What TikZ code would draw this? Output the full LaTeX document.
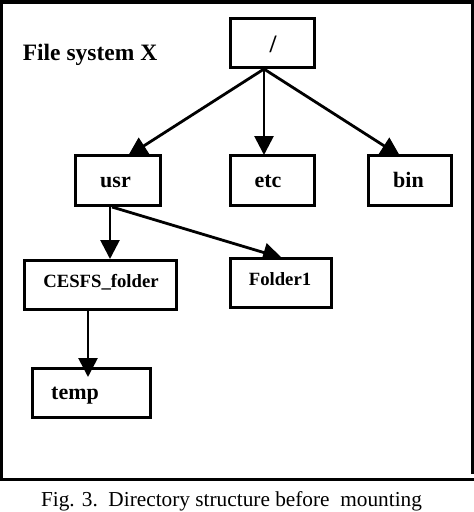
\documentclass[tikz,border=0pt]{standalone}
\usepackage{fontspec}
\setmainfont{Liberation Serif}
\usetikzlibrary{arrows.meta}
\begin{document}
\begin{tikzpicture}[x=1pt,y=-1pt,
  dirbox/.style={draw,line width=3pt,fill=white,inner sep=0pt,outer sep=0pt},
  big/.style={font=\bfseries\fontsize{22}{24}\selectfont,inner sep=0pt,anchor=base},
  small/.style={font=\bfseries\fontsize{18.7}{20}\selectfont,inner sep=0pt,anchor=base},
  link/.style={line width=2.8pt,-{Triangle[length=19pt,width=19pt]}},
  frame/.style={line width=3.5pt}]
\useasboundingbox (0,0) rectangle (474,512);
% outer frame
\coordinate (ftl) at (0,2);
\coordinate (ftr) at (474,2);
\coordinate (fl1) at (1.5,0);
\coordinate (fl2) at (1.5,479);
\coordinate (fr1) at (473,0);
\coordinate (fr2) at (473,474);
\coordinate (fbl) at (0,479.5);
\coordinate (fbr) at (474,479.5);
\draw[frame] (ftl) -- (ftr);
\draw[frame] (fl1) -- (fl2);
\draw[frame] (fr1) -- (fr2);
\draw[frame] (fbl) -- (fbr);
% arrow end points
\coordinate (rs) at (264,69);
\coordinate (tusr) at (128,156);
\coordinate (tetc) at (264,155);
\coordinate (tbin) at (400,156);
\coordinate (us) at (112,207);
\coordinate (usv) at (110,207);
\coordinate (tcesfs) at (110,259);
\coordinate (tfold) at (282,258);
\coordinate (cs) at (88,311);
\coordinate (ttemp) at (88,377);
% arrows whose tips are covered by the boxes
\draw[link] (rs) -- (tusr);
\draw[link] (rs) -- (tetc);
\draw[link] (rs) -- (tbin);
\draw[link] (us) -- (tfold);
\draw[link] (usv) -- (tcesfs);
% boxes
\node[dirbox,minimum width=84pt,minimum height=49pt] (root) at (272.5,43) {};
\node[dirbox,minimum width=85pt,minimum height=50pt] (usr) at (118,180.5) {};
\node[dirbox,minimum width=84pt,minimum height=50pt] (etc) at (272.5,180.5) {};
\node[dirbox,minimum width=83pt,minimum height=50pt] (bin) at (410,180.5) {};
\node[dirbox,minimum width=152pt,minimum height=49pt] (cesfs) at (100.5,285) {};
\node[dirbox,minimum width=101pt,minimum height=49pt] (folder) at (281,283) {};
\node[dirbox,minimum width=118pt,minimum height=49pt] (temp) at (91.5,393) {};
\draw[link] (cs) -- (ttemp);
% labels
\node[big,font=\bfseries\fontsize{23.5}{25}\selectfont] (lfs) at (90,60) {File system X};
\node[big,font=\bfseries\fontsize{25}{27}\selectfont] (lroot) at (273,52) {/};
\node[big] (lusr) at (115.5,187) {usr};
\node[big] (letc) at (268,187) {etc};
\node[big] (lbin) at (408.5,187) {bin};
\node[small] (lcesfs) at (101,287) {CESFS\_folder};
\node[small] (lfolder) at (280,285) {Folder1};
\node[big,anchor=base west] (ltemp) at (51,399) {temp};
\node[font=\fontsize{21.3}{23}\selectfont,inner sep=0pt,anchor=base] (cap) at (231.5,506) {Fig. 3.\ \ Directory structure before\ \ mounting};
\end{tikzpicture}
\end{document}
